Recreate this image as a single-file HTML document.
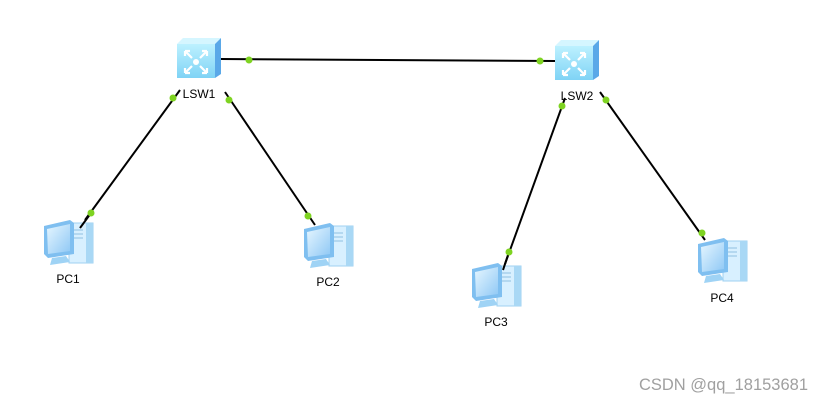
<!DOCTYPE html>
<html><head><meta charset="utf-8"><style>
html,body{margin:0;padding:0;background:#fff;}
svg{display:block;}
text{font-family:"Liberation Sans",sans-serif;}
</style></head><body>
<svg width="823" height="403" viewBox="0 0 823 403" xmlns="http://www.w3.org/2000/svg">
<defs>
<linearGradient id="sf" x1="0" y1="0" x2="0" y2="1"><stop offset="0" stop-color="#bdf1ff"/><stop offset="1" stop-color="#7fd3f5"/></linearGradient>
<linearGradient id="mon" x1="0" y1="0" x2="1" y2="1"><stop offset="0" stop-color="#e6f6ff"/><stop offset="1" stop-color="#8fc8f5"/></linearGradient>
<g id="sw">
  <polygon points="0,6 6,0 44,0 38,6" fill="#d5f6ff"/>
  <polygon points="38,6 44,0 44,36 38,40" fill="#5aa8e8"/>
  <rect x="0" y="6" width="38" height="34" fill="url(#sf)"/>
  <g stroke="#fff" stroke-width="2.2" fill="none">
    <path d="M8 13 L15 20 M8 13 h5 M8 13 v5"/>
    <path d="M30 13 L23 20 M30 13 h-5 M30 13 v5"/>
    <path d="M8 35 L15 28 M8 35 h5 M8 35 v-5"/>
    <path d="M30 35 L23 28 M30 35 h-5 M30 35 v-5"/>
  </g>
  <circle cx="19" cy="24" r="3" fill="#fff"/>
</g>
<g id="pc">
  <rect x="27" y="3" width="24" height="40" fill="#d8f0ff" stroke="#9fd0f0"/>
  <rect x="44" y="3" width="7" height="40" fill="#a9d8f5"/>
  <g stroke="#8fc0e0" stroke-width="1"><path d="M31 10h10M31 14h10M31 18h10"/></g>
  <polygon points="2,6 28,0 32,3 32,34 6,38 2,34" fill="#7fbff0"/>
  <polygon points="5,9 28,4 28,31 6,34" fill="url(#mon)"/>
  <polygon points="10,38 24,36 28,42 8,45" fill="#9fd3f5"/>
</g>
</defs>
<g stroke="#000" stroke-width="2">
  <line x1="221" y1="59" x2="555" y2="61"/>
  <line x1="180" y1="90" x2="85" y2="220"/>
  <line x1="225" y1="92" x2="315" y2="225"/>
  <line x1="565" y1="98" x2="505" y2="264"/>
  <line x1="600" y1="92" x2="705" y2="240"/>
</g>
<use href="#sw" x="177" y="38"/>
<use href="#sw" x="555" y="40"/>
<use href="#pc" x="42" y="220"/>
<use href="#pc" x="302" y="223"/>
<use href="#pc" x="470" y="263"/>
<use href="#pc" x="696" y="238"/>
<g stroke="#000" stroke-width="2">
  <line x1="91" y1="213" x2="80" y2="228"/>
  <line x1="509" y1="252" x2="503" y2="270"/>
</g>
<g fill="#7ed321">
  <circle cx="249" cy="60" r="3.5"/><circle cx="540" cy="61" r="3.5"/>
  <circle cx="173" cy="98" r="3.5"/><circle cx="91" cy="213" r="3.5"/>
  <circle cx="229" cy="100" r="3.5"/><circle cx="308" cy="216" r="3.5"/>
  <circle cx="562" cy="106" r="3.5"/><circle cx="509" cy="252" r="3.5"/>
  <circle cx="606" cy="100" r="3.5"/><circle cx="702" cy="233" r="3.5"/>
</g>
<g font-size="12" fill="#000" text-anchor="middle">
  <text x="199" y="98">LSW1</text>
  <text x="577" y="100">LSW2</text>
  <text x="68" y="283">PC1</text>
  <text x="328" y="286">PC2</text>
  <text x="496" y="326">PC3</text>
  <text x="722" y="302">PC4</text>
</g>
<text x="808" y="390" font-size="16.5" fill="#a0a0a0" text-anchor="end">CSDN @qq_18153681</text>
</svg>
</body></html>
